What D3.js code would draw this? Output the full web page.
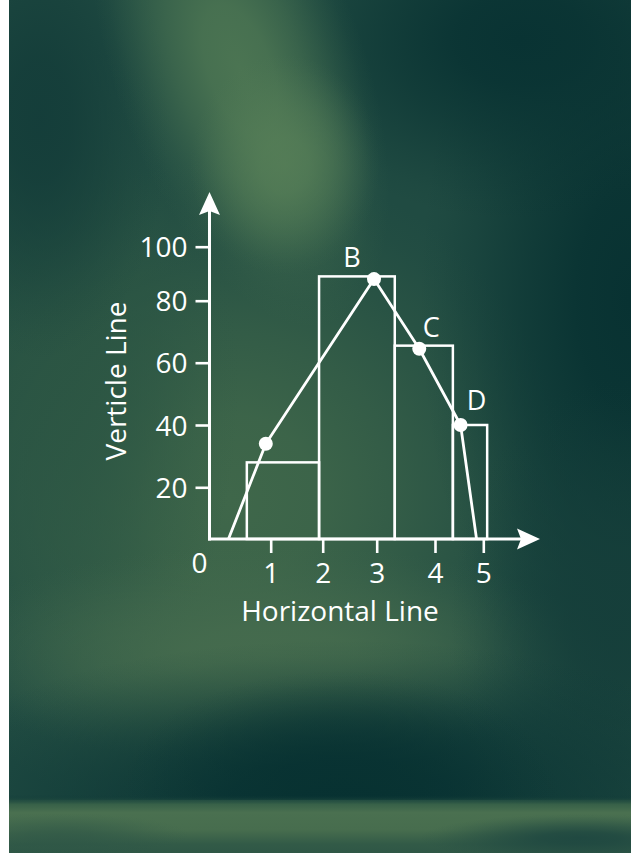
<!DOCTYPE html>
<html>
<head>
<meta charset="utf-8">
<script src="https://cdn.jsdelivr.net/npm/d3@7"></script>
<style>
  html, body { margin: 0; padding: 0; background: #fff; }
  svg { display: block; }
  text { font-family: "Open Sans", sans-serif; fill: #fff; }
</style>
</head>
<body>
<div id="chart"></div>
<script>
/*jslint browser: true*/

// data
var xTickValues = [1, 2, 3, 4, 5];
var yTickValues = [20, 40, 60, 80, 100];
var barEdges = [0.61, 1.93, 3.31, 4.37, 5.08];   // class boundaries
var barHeights = [28, 89, 65.5, 40];
var polyX = [0.31, 0.92, 2.95, 3.73, 4.53, 4.86];
var polyY = [0, 34, 88, 64.5, 40, 0];
var pointNames = ['', '', 'B', 'C', 'D', ''];
var xTitle = 'Horizontal Line';
var yTitle = 'Verticle Line';

(function (d3) {
    'use strict';

    var W = 640, H = 853;
    var svg = d3.select('#chart').append('svg')
        .attr('width', W)
        .attr('height', H);

    // ---- background: soft radial blobs (no filters, they tile badly) ----
    var defs = svg.append('defs');
    defs.append('clipPath').attr('id', 'bgclip')
        .append('rect').attr('x', 9).attr('y', 0).attr('width', 622).attr('height', H);
    defs.append('clipPath').attr('id', 'domeclip')
        .append('rect').attr('x', 0).attr('y', 0).attr('width', W).attr('height', 800);

    var bg = svg.append('g').attr('clip-path', 'url(#bgclip)');
    bg.append('rect').attr('x', 0).attr('y', 0).attr('width', W).attr('height', H)
        .attr('fill', '#204b42');

    var blobCount = 0;
    function blob(parent, cx, cy, rx, ry, rot, color, op) {
        var id = 'blob' + (blobCount += 1);
        var grad = defs.append('radialGradient').attr('id', id);
        [[0, 1], [0.25, 0.9], [0.5, 0.6], [0.75, 0.25], [0.9, 0.07], [1, 0]].forEach(function (s) {
            grad.append('stop')
                .attr('offset', s[0])
                .attr('stop-color', color)
                .attr('stop-opacity', s[1] * op);
        });
        parent.append('ellipse')
            .attr('transform', 'translate(' + cx + ',' + cy + ') rotate(' + rot + ')')
            .attr('rx', rx).attr('ry', ry)
            .attr('fill', 'url(#' + id + ')');
    }

    blob(bg, 230, 500, 340, 340, 0, '#3f674a', 1);
    blob(bg, 70, 380, 170, 340, 0, '#2b5543', 0.8);
    blob(bg, 630, 300, 210, 440, 0, '#083232', 1);
    blob(bg, 520, 40, 260, 180, 0, '#093333', 1);
    blob(bg, 40, 120, 130, 240, 0, '#133c39', 0.9);
    blob(bg, 240, 70, 125, 270, -20, '#507954', 0.9);
    blob(bg, 285, 165, 95, 110, 0, '#5a8259', 0.75);
    blob(bg, 270, 655, 340, 110, 0, '#466c4e', 0.95);
    blob(bg, 610, 620, 160, 240, 0, '#153e3a', 0.9);

    var dome = bg.append('g').attr('clip-path', 'url(#domeclip)');
    blob(dome, 340, 800, 440, 160, 0, '#0a3434', 1);
    blob(dome, 340, 790, 220, 120, 0, '#073131', 0.8);

    var band = defs.append('linearGradient').attr('id', 'band')
        .attr('x1', 0).attr('y1', 0).attr('x2', 0).attr('y2', 1);
    [[0, '#0a3434', 0], [0.16, '#3a6349', 0.9], [0.3, '#4a7050', 1],
        [0.6, '#476d4e', 1], [0.85, '#325a47', 1], [1, '#2f5746', 1]].forEach(function (s) {
        band.append('stop').attr('offset', s[0]).attr('stop-color', s[1]).attr('stop-opacity', s[2]);
    });
    bg.append('rect').attr('x', 0).attr('y', 795).attr('width', W).attr('height', H - 795)
        .attr('fill', 'url(#band)');
    blob(bg, 580, 838, 160, 24, 0, '#1d4640', 0.9);
    blob(bg, 60, 835, 130, 22, 0, '#2c5446', 0.6);

    // ---- scales (hand-drawn ticks are not evenly spaced) ----
    var x = d3.scaleLinear()
        .domain([0, 1, 2, 3, 4, 5])
        .range([209.5, 270.7, 322.7, 376.7, 435, 483.3]);
    var y = d3.scaleLinear()
        .domain([0, 20, 40, 60, 80, 100])
        .range([539, 487.3, 425, 362.7, 300.7, 246.7]);

    var g = svg.append('g');

    // bars (histogram rectangles)
    var bars = barHeights.map(function (h, i) {
        return {x0: barEdges[i], x1: barEdges[i + 1], h: h};
    });
    g.selectAll('rect.bar').data(bars).enter().append('rect')
        .attr('class', 'bar')
        .attr('x', function (d) { return x(d.x0); })
        .attr('y', function (d) { return y(d.h); })
        .attr('width', function (d) { return x(d.x1) - x(d.x0); })
        .attr('height', function (d) { return y(0) - y(d.h); })
        .attr('fill', 'none')
        .attr('stroke', '#fff')
        .attr('stroke-width', 2.5);

    // frequency polygon
    var pts = polyX.map(function (v, i) {
        return {x: v, y: polyY[i], name: pointNames[i]};
    });
    g.append('path').datum(pts)
        .attr('d', d3.line().x(function (d) { return x(d.x); }).y(function (d) { return y(d.y); }))
        .attr('fill', 'none')
        .attr('stroke', '#fff')
        .attr('stroke-width', 2.8)
        .attr('stroke-linejoin', 'round');

    var inner = pts.slice(1, pts.length - 1);
    g.selectAll('circle.pt').data(inner).enter().append('circle')
        .attr('class', 'pt')
        .attr('cx', function (d) { return x(d.x); })
        .attr('cy', function (d) { return y(d.y); })
        .attr('r', 7)
        .attr('fill', '#fff');

    var labelOffset = {B: [-22, -12], C: [12, -12], D: [16, -15]};
    g.selectAll('text.pname').data(inner.filter(function (d) { return d.name; })).enter()
        .append('text')
        .attr('class', 'pname')
        .attr('x', function (d) { return x(d.x) + labelOffset[d.name][0]; })
        .attr('y', function (d) { return y(d.y) + labelOffset[d.name][1]; })
        .attr('text-anchor', 'middle')
        .style('font-size', '27px')
        .text(function (d) { return d.name; });

    // ---- axes ----
    var yAxis = g.append('g')
        .attr('transform', 'translate(' + x(0) + ',0)')
        .call(d3.axisLeft(y).tickValues(yTickValues).tickFormat(d3.format('d'))
            .tickSize(14).tickPadding(8));
    var xAxis = g.append('g')
        .attr('transform', 'translate(0,' + y(0) + ')')
        .call(d3.axisBottom(x).tickValues(xTickValues).tickFormat(d3.format('d'))
            .tickSize(14).tickPadding(10));

    [yAxis, xAxis].forEach(function (ax) {
        ax.select('.domain').remove();
        ax.selectAll('.tick line').attr('stroke', '#fff').attr('stroke-width', 2.6);
        ax.selectAll('.tick text')
            .attr('fill', '#fff')
            .style('font-family', '"Open Sans", sans-serif')
            .style('font-size', '28px');
    });
    yAxis.selectAll('.tick text').attr('dy', '0.36em');
    xAxis.selectAll('.tick text').attr('dy', '0.72em');

    // axis lines with arrow heads
    var ox = x(0), oy = y(0);
    var yTip = 192, xTip = 540;
    g.append('line')
        .attr('x1', ox).attr('y1', oy + 1.5).attr('x2', ox).attr('y2', yTip + 18)
        .attr('stroke', '#fff').attr('stroke-width', 3);
    g.append('line')
        .attr('x1', ox - 1.5).attr('y1', oy).attr('x2', xTip - 18).attr('y2', oy)
        .attr('stroke', '#fff').attr('stroke-width', 3);

    var arrow = d3.path();
    arrow.moveTo(0, 0);
    arrow.lineTo(10.5, 23);
    arrow.lineTo(0, 19);
    arrow.lineTo(-10.5, 23);
    arrow.closePath();
    g.append('path').attr('d', arrow.toString())
        .attr('transform', 'translate(' + ox + ',' + yTip + ')')
        .attr('fill', '#fff');
    g.append('path').attr('d', arrow.toString())
        .attr('transform', 'translate(' + xTip + ',' + oy + ') rotate(90)')
        .attr('fill', '#fff');

    // origin label
    g.append('text')
        .attr('x', ox - 10).attr('y', 573)
        .attr('text-anchor', 'middle')
        .style('font-size', '28px')
        .text('0');

    // titles
    g.append('text')
        .attr('x', 340).attr('y', 621)
        .attr('text-anchor', 'middle')
        .style('font-size', '28px')
        .text(xTitle);
    g.append('text')
        .attr('transform', 'translate(126,381) rotate(-90)')
        .attr('text-anchor', 'middle')
        .style('font-size', '28px')
        .text(yTitle);

}(window.d3));
</script>
</body>
</html>
